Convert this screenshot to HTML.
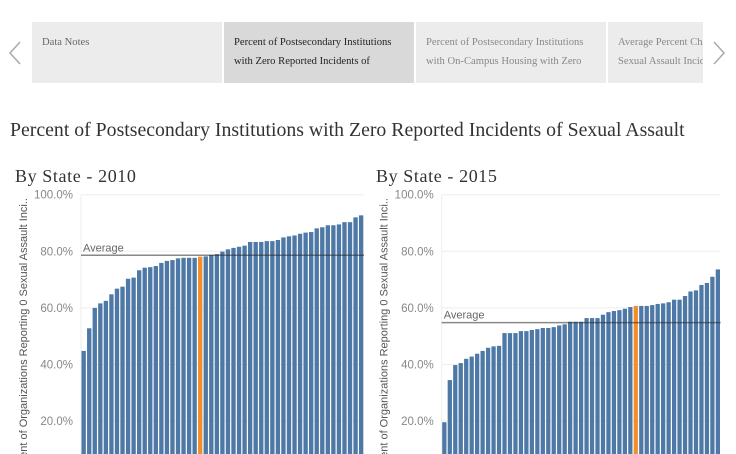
<!DOCTYPE html>
<html style="overflow:hidden"><head><meta charset="utf-8">
<style>
html,body{margin:0;width:736px;height:454px;overflow:hidden;background:#fff;font-family:"Liberation Serif",serif;}
.tab{position:absolute;top:22px;height:61px;background:#ececec;font-size:10.6px;line-height:19px;color:#666;padding:11px 0 0 10px;box-sizing:border-box;overflow:hidden;white-space:nowrap;}
</style></head><body>
<svg width="736" height="454" style="position:absolute;left:0;top:0">
<polyline points="20,42 10,53 20,64" fill="none" stroke="#aaa" stroke-width="1.5"/>
<polyline points="714,42 724,53 714,64" fill="none" stroke="#aaa" stroke-width="1.5"/>
</svg>
<div class="tab" style="left:32px;width:190px">Data Notes</div>
<div class="tab" style="left:224px;width:190px;background:#d9d9d9;color:#222">Percent of Postsecondary Institutions<br>with Zero Reported Incidents of</div>
<div class="tab" style="left:416px;width:190px;color:#888">Percent of Postsecondary Institutions<br>with On-Campus Housing with Zero</div>
<div class="tab" style="left:608px;width:95px;color:#888">Average Percent Change<br>Sexual Assault Incidents</div>
<div style="position:absolute;left:10px;top:119px;font-size:19.8px;color:#333;white-space:nowrap">Percent of Postsecondary Institutions with Zero Reported Incidents of Sexual Assault</div>
<div style="position:absolute;left:15px;top:166px;font-size:18px;letter-spacing:0.6px;color:#333">By State - 2010</div>
<div style="position:absolute;left:376px;top:166px;font-size:18px;letter-spacing:0.6px;color:#333">By State - 2015</div>
<svg id="charts" width="736" height="454" style="position:absolute;left:0;top:0;overflow:hidden"></svg>
<script>
const ticks=[20,40,60,80,100];
const tickLabels=["20.0%","40.0%","60.0%","80.0%","100.0%"];
const values2010=[44.8,52.8,60,61.6,62.5,64.8,66.8,67.5,70.3,70.7,73.3,74.2,74.4,74.8,75.9,76.6,76.9,77.5,77.7,77.7,77.7,78.1,78.2,78.7,79,79.9,80.7,81.2,81.6,82,83.3,83.3,83.3,83.6,83.6,84,84.9,85.3,85.6,86.2,86.6,86.8,88.1,88.5,89.2,89.2,89.5,90.3,90.3,92,92.7];
const values2015=[19.6,34.5,39.8,40.5,42,42.8,43.8,44.8,45.9,46.4,46.6,51.1,51.1,51.1,51.8,51.8,52.2,52.5,52.9,52.9,53.2,53.8,54.2,55.1,55.1,55.1,56.4,56.4,56.4,57.6,58.5,58.9,59.2,59.7,60.3,60.7,60.7,60.7,61,61.4,61.6,62,62.9,62.9,64.2,65.8,66.2,68.1,68.8,71,73.6];
const highlight2010=21, highlight2015=35;
const avg2010=78.6, avg2015=54.8;
const NS="http://www.w3.org/2000/svg";
const svg=document.getElementById('charts');
function mk(t,a){const e=document.createElementNS(NS,t);for(const k in a)e.setAttribute(k,a[k]);svg.appendChild(e);return e;}
function y(v){return 477.7-v*2.83;}
function chart(x0,x1,vals,hi,avg){
  ticks.forEach((t,i)=>{
    const g=mk('line',{x1:x0,x2:x1,y1:y(t),y2:y(t),stroke:'#eee','stroke-width':1});
    
    
    const l=mk('text',{x:x0-8,y:y(t)+4,'text-anchor':'end','font-size':11.5,fill:'#888','font-family':'Liberation Sans, sans-serif'});
    l.textContent=tickLabels[i];
    
    
  });
  const a=mk('line',{x1:x0,x2:x0,y1:y(100),y2:454,stroke:'#eee'});
  
  
  const step=(x1-x0)/vals.length;
  vals.forEach((v,i)=>{
    const r=mk('rect',{x:x0+i*step+0.5,y:y(v),width:step-1.2,height:454-y(v),fill:i===hi?'#f28e2b':'#4e79a7'});
    
    
  });
  const al=mk('line',{x1:x0,x2:x1,y1:y(avg),y2:y(avg),stroke:'rgba(40,40,40,0.55)','stroke-width':1.5});
  
  
  const at=mk('text',{x:x0+2,y:y(avg)-4,'font-size':11,fill:'#666','font-family':'Liberation Sans, sans-serif'});
  at.textContent='Average';
  
  
  const tx=x0-54;
  const yt=mk('text',{x:tx,y:198,'text-anchor':'end','font-size':11,fill:'#555','font-family':'Liberation Sans, sans-serif',transform:`rotate(-90 ${tx} 198)`});
  yt.textContent='Percent of Organizations Reporting 0 Sexual Assault Inci..';
  
  
}
chart(81,364,values2010,highlight2010,avg2010);
chart(441.7,720.7,values2015,highlight2015,avg2015);
</script>
</body></html>
